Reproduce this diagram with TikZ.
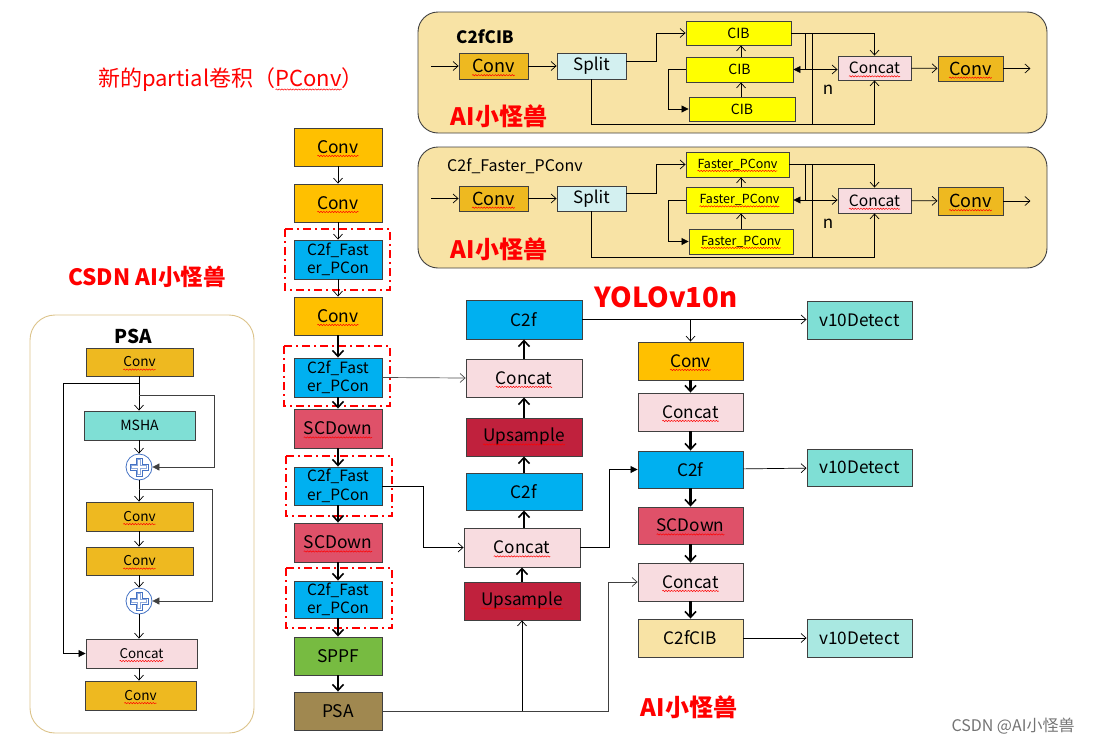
\documentclass[tikz,border=0pt]{standalone}
\usepackage{fontspec}
\setmainfont{Noto Sans CJK SC}
\usetikzlibrary{arrows.meta,calc,decorations.pathmorphing}
\newcommand\myfs[1]{\fontsize{#1}{\dimexpr #1pt*6/5\relax}\selectfont}
\newcommand\sq[1]{\tikz[baseline=(sqt.base)]{\node[inner sep=0pt,outer sep=0pt,minimum width=0pt,minimum height=0pt,draw=none,fill=none,shape=rectangle] (sqt) {#1};
  \draw[overlay, red, line width=0.5pt, decorate, decoration={snake, amplitude=0.65pt, segment length=2.8pt}]
    ([yshift=-2.6pt]sqt.base west) -- ([yshift=-2.6pt]sqt.base east);}}
\definecolor{bgold}{HTML}{FFC000}
\definecolor{pgold}{HTML}{EEB920}
\definecolor{cblue}{HTML}{00B0F0}
\definecolor{scd}{HTML}{DF5169}
\definecolor{crim}{HTML}{C0213D}
\definecolor{cpink}{HTML}{F8DCE0}
\definecolor{cteal}{HTML}{7FDFD5}
\definecolor{cteal2}{HTML}{A9E8E1}
\definecolor{wheat}{HTML}{F8E3A5}
\definecolor{cgreen}{HTML}{77BB41}
\definecolor{cbrown}{HTML}{A08850}
\definecolor{cyel}{HTML}{FFFF00}
\definecolor{csplit}{HTML}{D3F0F0}
\definecolor{bd}{HTML}{404040}
\definecolor{psab}{HTML}{DCC38A}
\definecolor{pblue}{HTML}{4472C4}
\tikzset{
  box/.style={draw=bd, line width=0.9pt, inner sep=0pt, align=center, text=black},
  arr/.style={-{Straight Barb[length=5pt,width=9pt]}, line width=0.7pt},
  tarr/.style={-{Straight Barb[length=6pt,width=11pt,line width=1.6pt]}, line width=2.2pt},
  farr/.style={-{Triangle[length=7pt,width=7pt]}, line width=0.8pt},
  redbox/.style={draw=red, line width=1.6pt, dash pattern=on 8pt off 4pt on 2pt off 4pt},
  redt/.style={text=red, font=\bfseries\myfs{24}},
  plus/.style={circle, draw=pblue, fill=white, line width=0.8pt, minimum size=26pt, inner sep=0pt},
}
\begin{document}
\begin{tikzpicture}[x=1pt,y=-1pt]
\useasboundingbox (0,0) rectangle (1094,744);
% ---------- titles ----------
\node[text=red, font=\myfs{22}] (title) at (231,80) {新的partial卷积（\sq{PConv}）};
\node[text=red, font=\bfseries\myfs{22.5}] (csdn) at (147,277) {CSDN AI小怪兽};
\node[text=red, font=\bfseries\myfs{27.5}] (yolo) at (666,297) {YOLOv10n};
\node[redt] (wm3) at (689,707) {AI小怪兽};
\node[text=black!55, font=\myfs{16}] (wm4) at (1013,726) {CSDN @AI小怪兽};

% ---------- panel 1: C2fCIB ----------
\draw[draw=bd, fill=wheat, line width=0.9pt, rounded corners=20pt] (418,12) rectangle (1047,133);
\node[font=\bfseries\myfs{17}] (t1) at (485,37) {C2fCIB};
\node[redt] (wm1) at (499,116) {AI小怪兽};
\node[box, fill=pgold, minimum width=69pt, minimum height=26pt, font=\myfs{18}] (ca) at (493.5,66) {\sq{Conv}};
\node[box, fill=csplit, minimum width=69pt, minimum height=26pt, font=\myfs{17}] (sa) at (591.5,66) {Split};
\node[box, fill=cyel, minimum width=105pt, minimum height=24pt, font=\myfs{14}] (cibA) at (738.5,33) {CIB};
\node[box, fill=cyel, minimum width=107pt, minimum height=25pt, font=\myfs{14}] (cibB) at (739.5,69.5) {CIB};
\node[box, fill=cyel, minimum width=106pt, minimum height=24pt, font=\myfs{14}] (cibC) at (742,109) {CIB};
\node[box, fill=cpink, minimum width=73pt, minimum height=24pt, font=\myfs{15.6}] (cata) at (874.5,68) {\sq{Concat}};
\node[box, fill=pgold, minimum width=65pt, minimum height=25pt, font=\myfs{18}] (coa) at (970.5,68.5) {\sq{Conv}};
\coordinate (ina) at (431,66);
\draw[arr] (ina) -- (ca);
\draw[arr] (ca) -- (sa);
\draw[arr] ([yshift=5pt]sa.east) -- ++(30,0) |- (cibA.west);
\draw[arr] (cibC.north -| 741,0) -- (cibB.south -| 741,0);
\draw[arr] (cibB.north -| 741,0) -- (cibA.south -| 741,0);
\draw[farr] (cibB.west) -- ++(-17,0) |- (cibC.west);
\draw[arr] (cibA.east) -| (cata.north);
\draw[line width=0.7pt] (805,33) -- (805,69.5);
\draw[line width=0.7pt] (812,33) -- (812,124);
\draw[{Triangle[length=7pt,width=7pt]}-{Straight Barb[length=5pt,width=9pt]}, line width=0.7pt] (cibB.east) -- (cibB.east -| cata.west);
\draw[arr] (sa.south) -- ++(0,45) -| (cata.south);
\node[font=\myfs{17}] (na) at (828,90) {n};
\draw[arr] (cata) -- (coa);
\draw[arr] (coa.east) -- ++(27,0);

% ---------- panel 2: C2f_Faster_PConv ----------
\draw[draw=bd, fill=wheat, line width=0.9pt, rounded corners=20pt] (418,147) rectangle (1047,268);
\node[font=\myfs{16}] (t2) at (515,166) {C2f\_Faster\_PConv};
\node[redt] (wm2) at (499,249) {AI小怪兽};
\node[box, fill=pgold, minimum width=69pt, minimum height=25pt, font=\myfs{18}] (cb) at (493.5,198.5) {\sq{Conv}};
\node[box, fill=csplit, minimum width=69pt, minimum height=25pt, font=\myfs{17}] (sb) at (591.5,198.5) {Split};
\node[box, fill=cyel, minimum width=103pt, minimum height=25pt, font=\myfs{12.5}] (fpA) at (737.5,164.5) {\sq{Faster\_PConv}};
\node[box, fill=cyel, minimum width=107pt, minimum height=26pt, font=\myfs{12.5}] (fpB) at (739.5,200) {\sq{Faster\_PConv}};
\node[box, fill=cyel, minimum width=104pt, minimum height=25pt, font=\myfs{12.5}] (fpC) at (741,241.5) {\sq{Faster\_PConv}};
\node[box, fill=cpink, minimum width=73pt, minimum height=25pt, font=\myfs{15.6}] (catb) at (874.5,200.5) {\sq{Concat}};
\node[box, fill=pgold, minimum width=65pt, minimum height=28pt, font=\myfs{18}] (cob) at (970.5,201) {\sq{Conv}};
\coordinate (inb) at (431,198.5);
\draw[arr] (inb) -- (cb);
\draw[arr] (cb) -- (sb);
\draw[arr] ([yshift=5pt]sb.east) -- ++(30,0) |- (fpA.west);
\draw[arr] (fpC.north -| 741,0) -- (fpB.south -| 741,0);
\draw[arr] (fpB.north -| 741,0) -- (fpA.south -| 741,0);
\draw[farr] (fpB.west) -- ++(-17,0) |- (fpC.west);
\draw[arr] (fpA.east) -| (catb.north);
\draw[line width=0.7pt] (805,164.5) -- (805,200);
\draw[line width=0.7pt] (812,164.5) -- (812,257);
\draw[{Triangle[length=7pt,width=7pt]}-{Straight Barb[length=5pt,width=9pt]}, line width=0.7pt] (fpB.east) -- (fpB.east -| catb.west);
\draw[arr] (sb.south) -- ++(0,45.5) -| (catb.south);
\node[font=\myfs{17}] (nb) at (828,224) {n};
\draw[arr] (catb) -- (cob);
\draw[arr] (cob.east) -- ++(27,0);

% ---------- PSA panel ----------
\draw[draw=psab, line width=0.9pt, rounded corners=25pt] (30,315) rectangle (254,733);
\node[font=\bfseries\myfs{19}] (tpsa) at (133,336) {PSA};
\node[box, fill=pgold, minimum width=107pt, minimum height=28pt, font=\myfs{13.6}] (pc1) at (139.5,362) {\sq{Conv}};
\node[box, fill=cteal, minimum width=111pt, minimum height=29pt, font=\myfs{14}] (msha) at (139.5,425.5) {MSHA};
\node[plus] (pl1) at (139,467) {};
\node[box, fill=pgold, minimum width=107pt, minimum height=29pt, font=\myfs{13.6}] (pc2) at (139.5,516.5) {\sq{Conv}};
\node[box, fill=pgold, minimum width=107pt, minimum height=28pt, font=\myfs{13.6}] (pc3) at (139.5,561) {\sq{Conv}};
\node[plus] (pl2) at (139,601) {};
\node[box, fill=cpink, minimum width=111pt, minimum height=29pt, font=\myfs{13.4}] (pcat) at (141.5,653.5) {\sq{Concat}};
\node[box, fill=pgold, minimum width=111pt, minimum height=29pt, font=\myfs{13.6}] (pc4) at (140.5,695.5) {\sq{Conv}};
\foreach \p in {pl1,pl2}{
  \draw[draw=pblue, line width=0.8pt, shift={(\p.center)}]
    (-3,-9) -- (3,-9) -- (3,-3) -- (9,-3) -- (9,3) -- (3,3) -- (3,9) -- (-3,9) -- (-3,3) -- (-9,3) -- (-9,-3) -- (-3,-3) -- cycle;
  \draw[draw=pblue!60, line width=0.5pt, shift={(\p.center)}]
    (-1.5,-7.5) -- (1.5,-7.5) -- (1.5,-1.5) -- (7.5,-1.5) -- (7.5,1.5) -- (1.5,1.5) -- (1.5,7.5) -- (-1.5,7.5) -- (-1.5,1.5) -- (-7.5,1.5) -- (-7.5,-1.5) -- (-1.5,-1.5) -- cycle;
}
\draw[arr] (pc1.south -| pl1) -- (msha.north -| pl1);
\draw[farr] (pc1.south -| pl1) ++(0,7) -- ++(-76,0) |- (pcat.west);
\draw[farr, draw=bd] (pc1.south -| pl1) ++(0,19) -- ++(75,0) |- (pl1.east);
\draw[arr] (msha.south -| pl1) -- (pl1.north);
\draw[arr] (pl1.south) -- (pc2.north -| pl1);
\draw[farr, draw=bd] (pl1.south) ++(0,9) -- ++(73,0) |- (pl2.east);
\draw[arr] (pc2.south -| pl1) -- (pc3.north -| pl1);
\draw[arr] (pc3.south -| pl2) -- (pl2.north);
\draw[arr] (pl2.south) -- (pcat.north -| pl2);
\draw[arr] (pcat.south -| pl2) -- (pc4.north -| pl2);

% ---------- backbone ----------
\tikzset{bb/.style={box, minimum width=88pt, minimum height=38pt, font=\myfs{17.4}}}
\node[bb, fill=bgold] (b1) at (338,147) {\sq{Conv}};
\node[bb, fill=bgold] (b2) at (338,203) {\sq{Conv}};
\node[bb, fill=cblue, minimum height=39pt, font=\myfs{15.5}] (b3) at (338,259.5) {C2f\_Fast\\er\_PCon};
\node[bb, fill=bgold] (b4) at (338,316) {\sq{Conv}};
\node[bb, fill=cblue, minimum height=39pt, font=\myfs{15.5}] (b5) at (338,377.5) {C2f\_Fast\\er\_PCon};
\node[bb, fill=scd, minimum height=39pt] (b6) at (338,428.5) {\sq{SCDown}};
\node[bb, fill=cblue, minimum height=38pt, font=\myfs{15.5}] (b7) at (338,486) {C2f\_Fast\\er\_PCon};
\node[bb, fill=scd, minimum height=39pt] (b8) at (338,542.5) {\sq{SCDown}};
\node[bb, fill=cblue, minimum height=37pt, font=\myfs{15.5}] (b9) at (338,599.5) {C2f\_Fast\\er\_PCon};
\node[bb, fill=cgreen] (b10) at (338,656) {SPPF};
\node[bb, fill=cbrown] (b11) at (338,711) {PSA};
\draw[redbox] (285,229) rectangle (390,290);
\draw[redbox] (284,346) rectangle (390,406);
\draw[redbox] (286,456) rectangle (392,516);
\draw[redbox] (286,568) rectangle (392,628);
\draw[arr] (b1) -- (b2);
\draw[arr] (b2) -- (b3);
\draw[arr] (b3) -- (b4);
\draw[tarr] (b4) -- (b5);
\draw[tarr] (b5) -- (b6);
\draw[tarr] (b6) -- (b7);
\draw[tarr] (b7) -- (b8);
\draw[tarr] (b8) -- (b9);
\draw[tarr] (b9) -- (b10);
\draw[tarr] (b10) -- (b11);

% ---------- neck column 1 ----------
\tikzset{nk/.style={box, minimum width=116pt, minimum height=38pt, font=\myfs{17.2}}}
\node[nk, fill=cblue, minimum height=39pt] (n1) at (524,319.5) {C2f};
\node[nk, fill=cpink] (n2) at (524,378) {\sq{Concat}};
\node[nk, fill=crim] (n3) at (524,437) {\sq{Upsample}};
\node[nk, fill=cblue, minimum height=37pt] (n4) at (524,491.5) {C2f};
\node[nk, fill=cpink, minimum height=39pt] (n5) at (522,547.5) {\sq{Concat}};
\node[nk, fill=crim] (n6) at (522,601) {\sq{Upsample}};
\draw[tarr] (n6) -- (n5);
\draw[tarr] (n5.north -| n4) -- (n4);
\draw[tarr] (n4) -- (n3);
\draw[tarr] (n3) -- (n2);
\draw[tarr] (n2) -- (n1);

% ---------- neck column 2 ----------
\tikzset{nk2/.style={box, minimum width=105pt, minimum height=38pt, font=\myfs{17.2}}}
\node[nk2, fill=bgold] (m1) at (690.5,361) {\sq{Conv}};
\node[nk2, fill=cpink] (m2) at (690.5,412) {\sq{Concat}};
\node[nk2, fill=cblue, minimum height=37pt] (m3) at (690.5,469.5) {C2f};
\node[nk2, fill=scd, minimum height=37pt] (m4) at (690.5,525.5) {\sq{SCDown}};
\node[nk2, fill=cpink] (m5) at (690.5,582) {\sq{Concat}};
\node[nk2, fill=wheat] (m6) at (690.5,638) {C2fCIB};
\node[nk2, fill=cteal] (d1) at (859.5,320) {v10Detect};
\node[nk2, fill=cteal, minimum height=37pt] (d2) at (859.5,467.5) {v10Detect};
\node[nk2, fill=cteal2] (d3) at (859.5,638) {v10Detect};
\draw[tarr] (m1) -- (m2);
\draw[tarr] (m2) -- (m3);
\draw[tarr] (m3) -- (m4);
\draw[tarr] (m4) -- (m5);
\draw[tarr] (m5) -- (m6);

% ---------- cross connections ----------
\draw[arr] (n1.east) -- (n1.east -| d1.west);
\draw[arr] (n1.east -| m1) -- (m1.north);
\draw[arr] (m3) -- (d2);
\draw[arr] (m6) -- (d3);
\draw[arr, draw=black!70] (b5.east) -- (n2.west);
\draw[arr] (b7.east) -- ++(41,0) |- (n5.west);
\draw[farr] (n5.east) -- ++(29,0) |- (m3.west);
\draw[arr, draw=bd] (b11.east) -- ++(226,0) |- (m5.west);
\draw[arr] (b11.east -| n6.south) -- (n6.south);
\end{tikzpicture}
\end{document}
